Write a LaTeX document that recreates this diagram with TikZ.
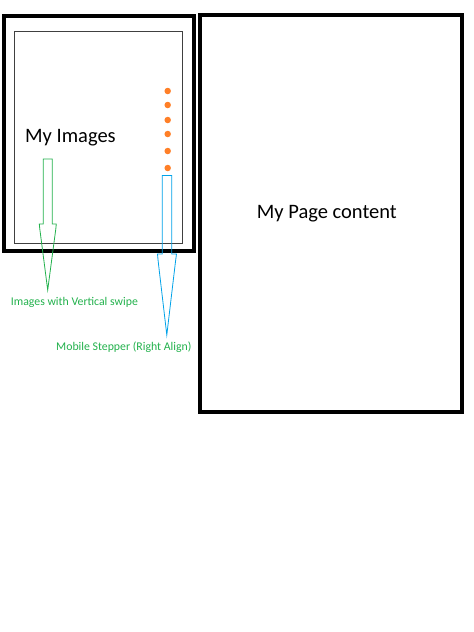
\documentclass[tikz,border=0pt]{standalone}
\usepackage{fontspec}
\setmainfont{Carlito}
\definecolor{pgreen}{RGB}{34,177,76}
\definecolor{pblue}{RGB}{0,162,232}
\definecolor{porange}{RGB}{255,127,39}
\definecolor{pgray}{RGB}{64,64,64}
\begin{document}
\begin{tikzpicture}[x=1pt,y=-1pt,
  thickbox/.style={draw=black,line width=4pt},
  thinbox/.style={draw=pgray,line width=1pt},
  bigtext/.style={font=\fontsize{20.5}{24}\selectfont,inner sep=0pt,anchor=base west},
  smalltext/.style={font=\fontsize{11.8}{14}\selectfont,text=pgreen,inner sep=0pt,anchor=base west},
  blockarrow/.style={line width=0.8pt,line join=miter},
  stepdot/.style={circle,fill=porange,inner sep=0pt,minimum size=6.5pt}]
\useasboundingbox (0,0) rectangle (474,632);
% boxes
\draw[thickbox] (3.5,15.5) rectangle (194,251);
\draw[thinbox] (14,31) rectangle (182,243);
\draw[thickbox] (200,15) rectangle (462,411.5);
% texts
\node[bigtext] (myimages) at (25,142) {My Images};
\node[bigtext] (mypage) at (256.7,218.3) {My Page content};
\node[smalltext] (lblgreen) at (10.7,305.5) {Images with Vertical swipe};
\node[smalltext] (lblblue) at (56,350.5) {Mobile Stepper (Right Align)};
% stepper dots
\foreach \yy [count=\i] in {91,105,120,134,151,168}
  \node[stepdot] (dot\i) at (167.7,\yy) {};
% green block arrow
\draw[blockarrow,draw=pgreen] (43.3,159) -- (43.3,224) -- (39.3,224) -- (39.8,229)
  -- (47.7,290) -- (55.8,229) -- (56.3,224) -- (52.3,224) -- (52.3,159) -- cycle;
% blue block arrow
\draw[blockarrow,draw=pblue] (162.3,175.5) -- (162.3,254) -- (157.5,254) -- (158.2,261.5)
  -- (166.8,335) -- (175.5,261.5) -- (176.5,254) -- (171.7,254) -- (171.7,175.5) -- cycle;
\end{tikzpicture}
\end{document}
